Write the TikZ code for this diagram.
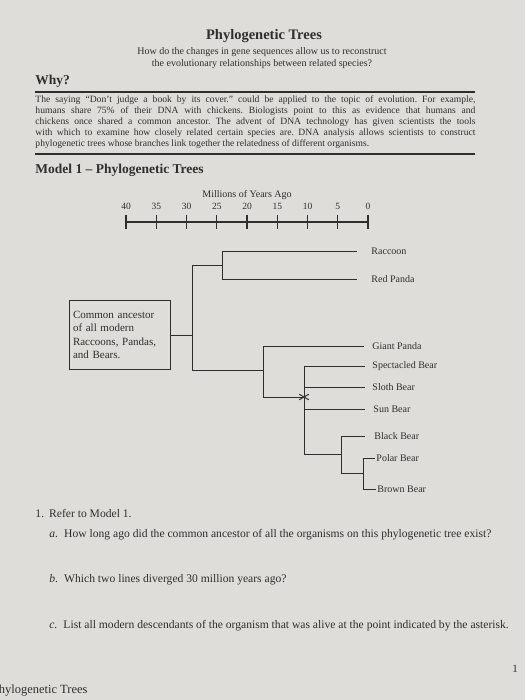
\documentclass[tikz,border=0pt]{standalone}
\usepackage{fontspec}
\setmainfont{Liberation Serif}
\definecolor{paper}{RGB}{222,221,217}
\definecolor{ink}{RGB}{48,46,45}

\begin{document}
\frenchspacing
\begin{tikzpicture}[x=1pt,y=-1pt,line width=0.9pt,color=ink,
    leaf/.style={anchor=west,inner ysep=1pt,font=\fontsize{10}{11}\selectfont},
    yearlabel/.style={anchor=base,inner sep=1pt,font=\fontsize{9.5}{10}\selectfont},
    ancbox/.style={rectangle,draw,thick,minimum width=100pt,minimum height=69pt,text width=94pt,align=left,font=\fontsize{11}{13.5}\selectfont},
    heading/.style={anchor=base west,inner sep=0pt,font=\bfseries\fontsize{13.5}{15}\selectfont},
    question/.style={anchor=base west,inner sep=0pt,font=\fontsize{11.6}{13}\selectfont},
    rule/.style={line width=1.2pt}]
  \clip (0,0) rectangle (525,700);
  \fill[paper] (0,0) rectangle (525,700);

  \path
  (264,36) node[font=\bfseries\fontsize{14.5}{16}\selectfont] (title) {Phylogenetic Trees}
  (262,58) node[align=center,font=\fontsize{10}{11.5}\selectfont] (sub) {How do the changes in gene sequences allow us to reconstruct\\the evolutionary relationships between related species?}

  (35,85) node[heading] (why) {Why?}
  (35,92) coordinate (r1a) (475,92) coordinate (r1b)
  (35,95) node[anchor=north west,inner sep=0pt,align=left,font=\fontsize{9.6}{11}\selectfont] (para)
  {\makebox[440pt][s]{The saying “Don’t judge a book by its cover.” could be applied to the topic of evolution. For example,}\\
   \makebox[440pt][s]{humans share 75\% of their DNA with chickens. Biologists point to this as evidence that humans and}\\
   \makebox[440pt][s]{chickens once shared a common ancestor. The advent of DNA technology has given scientists the tools}\\
   \makebox[440pt][s]{with which to examine how closely related certain species are. DNA analysis allows scientists to construct}\\
   phylogenetic trees whose branches link together the relatedness of different organisms.}
  (35,154) coordinate (r2a) (475,154) coordinate (r2b)
  (35,174) node[heading] (model) {Model 1 – Phylogenetic Trees}

  (247,195) node[font=\fontsize{10}{11}\selectfont] (axis) {Millions of Years Ago}
  ;
  \draw[rule] (r1a) -- (r1b);
  \draw[rule] (r2a) -- (r2b);

  % time axis
  \foreach \v [count=\i from 0] in {40,35,30,25,20,15,10,5,0} {
    \coordinate (tk\i) at (126+30.25*\i,222);
    \node[yearlabel] (yr\i) at (126+30.25*\i,210) {\v};
    \draw[line width=1.1pt] ([yshift=7pt]tk\i) -- ([yshift=-7pt]tk\i);
  }
  \draw[line width=1.1pt] (tk0) -- (tk8);

  % tree
  \path
  (120,335) node[ancbox] (anc) {Common ancestor\\of all modern\\Raccoons, Pandas,\\and Bears.}
  (192,335) coordinate (root)
  (222,265) coordinate (n1)
  (263,370) coordinate (n2)
  (304,397) coordinate (n3)
  (341,454) coordinate (n4)
  (363,473) coordinate (n5)

  (357,251) node[leaf,inner xsep=14pt] (rac) {Raccoon}
  (357,279) node[leaf,inner xsep=14pt] (rp) {Red Panda}
  (364,346) node[leaf,inner xsep=8pt] (gp) {Giant Panda}
  (365,366) node[leaf,inner xsep=7pt] (spb) {Spectacled Bear}
  (365,387) node[leaf,inner xsep=7pt] (slb) {Sloth Bear}
  (365,409) node[leaf,inner xsep=8pt] (snb) {Sun Bear}
  (365,436) node[leaf,inner xsep=9pt] (blb) {Black Bear}
  (375,458) node[leaf,inner xsep=1pt] (pob) {Polar Bear}
  (376,489) node[leaf,inner xsep=1pt] (brb) {Brown Bear}
  ;
  \draw (anc) -- (root);
  \draw (root) |- (n1);
  \draw (root) |- (n2);
  \draw (n1) |- (rac);
  \draw (n1) |- (rp);
  \draw (n2) |- (gp);
  \draw (n2) |- (n3);
  \draw (n3) |- (spb);
  \draw (n3) |- (slb);
  \draw (n3) |- (snb);
  \draw (n3) |- (n4);
  \draw (n4) |- (blb);
  \draw (n4) |- (n5);
  \draw (n5) |- (pob);
  \draw (n5) |- (brb);
  % asterisk on the bear branch
  \foreach \a in {90,30,-30}
    \draw[line width=1pt] ([shift={(\a:5.5)}]n3) -- ([shift={(\a+180:5.5)}]n3);

  % questions
  \path
  (35,517) node[question] (q1) {1.\hspace{5pt}Refer to Model 1.}
  (49,537) node[question] (qa) {\textit{a.}\hspace{6pt}How long ago did the common ancestor of all the organisms on this phylogenetic tree exist?}
  (49,582) node[question] (qb) {\textit{b.}\hspace{6pt}Which two lines diverged 30 million years ago?}
  (49,628) node[question] (qc) {\textit{c.}\hspace{6pt}List all modern descendants of the organism that was alive at the point indicated by the asterisk.}

  (88,693) node[anchor=base east,inner sep=0pt,font=\fontsize{12.5}{14}\selectfont] (foot) {Phylogenetic Trees}
  (515,672) node[anchor=base,inner sep=0pt,font=\fontsize{11}{12}\selectfont] (page) {1}
  ;
\end{tikzpicture}
\end{document}
